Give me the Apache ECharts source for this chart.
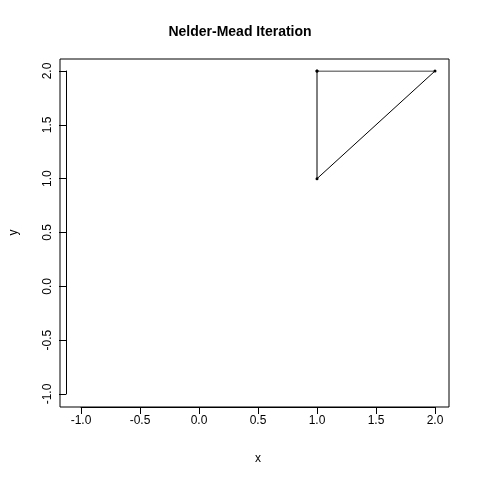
<!DOCTYPE html>
<html><head><meta charset="utf-8">
<script src="https://cdn.jsdelivr.net/npm/echarts@6/dist/echarts.min.js"></script>
<style>html,body{margin:0;background:#fff}#c{width:480px;height:480px}</style>
</head><body><div id="c"></div>
<script>
const xs = [1, 2, 1, 1];
const ys = [2, 2, 1, 2];
const ticks = [-1, -0.5, 0, 0.5, 1, 1.5, 2];
const title = 'Nelder-Mead Iteration';
const chart = echarts.init(document.getElementById('c'));
const lab = {color:'#000', fontSize:12, fontFamily:'Liberation Sans, Arial', formatter:v=>Number(v).toFixed(1)};
chart.setOption({
  animation:false,
  title:{text:title,left:'center',top:20,textStyle:{fontSize:14,fontWeight:'bold',color:'#000',fontFamily:'Liberation Sans, Arial'}},
  grid:[
    {left:60,right:31,top:59,bottom:73,show:true,borderColor:'#000',borderWidth:1},
    {left:75,right:45,top:71,bottom:86}
  ],
  xAxis:[
    {gridIndex:0,type:'value',min:-1.12,max:2.12,show:false},
    {gridIndex:1,type:'value',min:-1,max:2,interval:0.5,offset:13,position:'bottom',name:'x',nameLocation:'middle',nameGap:46,
     nameTextStyle:{color:'#000',fontSize:12,fontFamily:'Liberation Sans, Arial'},
     axisLine:{onZero:false,lineStyle:{color:'#000'}},axisTick:{length:7,lineStyle:{color:'#000'}},
     axisLabel:Object.assign({margin:8},lab),splitLine:{show:false}}
  ],
  yAxis:[
    {gridIndex:0,type:'value',min:-1.12,max:2.12,show:false},
    {gridIndex:1,type:'value',min:-1,max:2,interval:0.5,offset:15,position:'left',name:'y',nameLocation:'middle',nameGap:46,
     nameTextStyle:{color:'#000',fontSize:12,fontFamily:'Liberation Sans, Arial'},
     axisLine:{onZero:false,lineStyle:{color:'#000'}},axisTick:{length:7,lineStyle:{color:'#000'}},
     axisLabel:Object.assign({margin:12,rotate:90,verticalAlign:'bottom',align:'center'},lab),splitLine:{show:false}}
  ],
  series:[{type:'line',xAxisIndex:1,yAxisIndex:1,data:xs.map((x,i)=>[x,ys[i]]),
    lineStyle:{color:'#000',width:1},symbol:'circle',symbolSize:3,itemStyle:{color:'#000'}}]
});
</script></body></html>
